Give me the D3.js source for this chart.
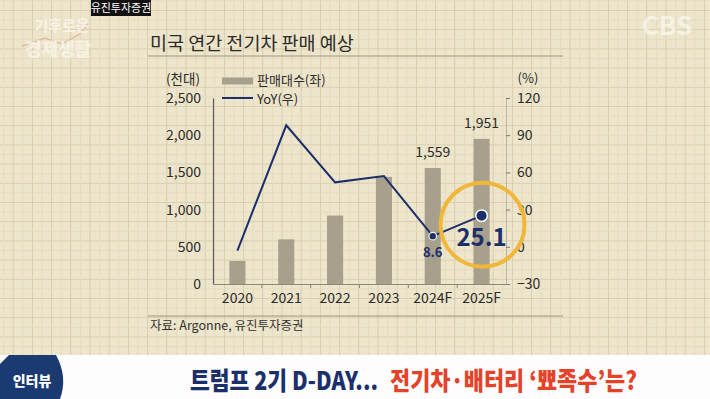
<!DOCTYPE html>
<html>
<head>
<meta charset="utf-8">
<script src="https://cdn.jsdelivr.net/npm/d3@7"></script>
<style>
  body { margin: 0; background: #eee6cc; }
  text { font-family: "Noto Sans CJK KR", "Noto Sans", sans-serif; }
</style>
</head>
<body>
<div id="chart"></div>
<script>
// data
const years = ['2020', '2021', '2022', '2023', '2024F', '2025F']
const sales = [310, 600, 920, 1440, 1559, 1951]
const yoy = [-3, 98, 52, 57, 8.6, 25.1]
const leftTicks = [0, 500, 1000, 1500, 2000, 2500]
const rightTicks = [-30, 0, 30, 60, 90, 120]

const width = 710,
  height = 399

const navy = '#1c2f6a',
  barColor = '#a7a08c'

const svg = d3.select('#chart')
  .append('svg')
  .attr('width', width)
  .attr('height', height)

// paper background
const defs = svg.append('defs')
const pat = defs.append('pattern')
  .attr('id', 'grid')
  .attr('patternUnits', 'userSpaceOnUse')
  .attr('width', 19.2)
  .attr('height', 19.2)
  .attr('x', 12.7)
  .attr('y', 10)
pat.append('rect').attr('width', 19.2).attr('height', 19.2).attr('fill', '#eee6cc')
pat.append('path')
  .attr('d', 'M0,0.5H19.2M0.5,0V19.2')
  .attr('stroke', '#d8cdac').attr('stroke-width', 1)
pat.append('path')
  .attr('d', 'M0,10.1H19.2M10.1,0V19.2')
  .attr('stroke', '#e5dbbe').attr('stroke-width', 1)

svg.append('rect')
  .attr('width', width).attr('height', height)
  .attr('fill', 'url(#grid)')

// scales
const x = d3.scaleBand().domain(years).range([213, 506])
const yL = d3.scaleLinear().domain([0, 2500]).range([284, 98])
const yR = d3.scaleLinear().domain([-30, 120]).range([284, 98])
const cx = d => x(d) + x.bandwidth() / 2
const barW = x.bandwidth() * 0.33

// title
svg.append('text')
  .attr('x', 150).attr('y', 50)
  .attr('font-size', 18.5)
  .attr('fill', '#2b2b2b')
  .text('미국 연간 전기차 판매 예상')

svg.append('line')
  .attr('x1', 148).attr('x2', 563)
  .attr('y1', 56).attr('y2', 56)
  .attr('stroke', '#9e967f').attr('stroke-width', 1.2)

svg.append('line')
  .attr('x1', 148).attr('x2', 563)
  .attr('y1', 316).attr('y2', 316)
  .attr('stroke', '#9e967f').attr('stroke-width', 1.2)

svg.append('text')
  .attr('x', 150).attr('y', 330)
  .attr('font-size', 12.5)
  .attr('fill', '#333')
  .text('자료: Argonne, 유진투자증권')

// bars
svg.selectAll('rect.bar')
  .data(sales)
  .enter()
  .append('rect')
  .attr('class', 'bar')
  .attr('x', (d, i) => cx(years[i]) - barW / 2)
  .attr('y', d => yL(d))
  .attr('width', barW)
  .attr('height', d => yL(0) - yL(d))
  .attr('fill', barColor)

// value labels for forecasts
svg.selectAll('text.val')
  .data(sales.slice(4))
  .enter()
  .append('text')
  .attr('class', 'val')
  .attr('x', (d, i) => cx(years[i + 4]))
  .attr('y', d => yL(d) - 11)
  .attr('text-anchor', 'middle')
  .attr('font-size', 14)
  .attr('fill', '#2b2b2b')
  .text(d3.format(','))

// axes
const left = svg.append('g')
  .attr('transform', 'translate(213,0)')
  .call(d3.axisLeft(yL).tickValues(leftTicks).tickSize(0).tickPadding(12).tickFormat(d3.format(',')))
left.select('.domain').attr('stroke', '#5a5a5a').attr('stroke-width', 1.2)
left.selectAll('text').attr('font-size', 14).attr('fill', '#2b2b2b')

const right = svg.append('g')
  .attr('transform', 'translate(506,0)')
  .call(d3.axisRight(yR).tickValues(rightTicks).tickSize(4).tickSizeOuter(0).tickPadding(7))
right.select('.domain').attr('stroke', '#b9b2a0')
right.selectAll('.tick line').attr('stroke', '#777')
right.selectAll('text').attr('font-size', 14).attr('fill', '#2b2b2b')

const bottom = svg.append('g')
  .attr('transform', 'translate(0,284)')
  .call(d3.axisBottom(x).tickSize(0).tickPadding(9))
bottom.select('.domain').attr('stroke', '#8d877a').attr('stroke-width', 1.2)
bottom.selectAll('text').attr('font-size', 14).attr('fill', '#2b2b2b')

svg.selectAll('line.sep')
  .data(years.slice(1))
  .enter()
  .append('line')
  .attr('class', 'sep')
  .attr('x1', d => x(d)).attr('x2', d => x(d))
  .attr('y1', 284).attr('y2', 288)
  .attr('stroke', '#8d877a')

// unit labels
svg.append('text')
  .attr('x', 183).attr('y', 84)
  .attr('text-anchor', 'middle')
  .attr('font-size', 13.5).attr('fill', '#2b2b2b')
  .text('(천대)')
svg.append('text')
  .attr('x', 528).attr('y', 83)
  .attr('text-anchor', 'middle')
  .attr('font-size', 13).attr('fill', '#2b2b2b')
  .text('(%)')

// legend
svg.append('rect')
  .attr('x', 222).attr('y', 77.5)
  .attr('width', 31).attr('height', 7)
  .attr('fill', barColor)
svg.append('text')
  .attr('x', 257).attr('y', 84.5)
  .attr('font-size', 13).attr('fill', '#2b2b2b')
  .text('판매대수(좌)')
svg.append('line')
  .attr('x1', 222).attr('x2', 253)
  .attr('y1', 98).attr('y2', 98)
  .attr('stroke', navy).attr('stroke-width', 2)
svg.append('text')
  .attr('x', 257).attr('y', 103.5)
  .attr('font-size', 13).attr('fill', '#2b2b2b')
  .text('YoY(우)')

// yoy line
const line = d3.line()
  .x((d, i) => cx(years[i]))
  .y(d => yR(d))

svg.append('path')
  .datum(yoy)
  .attr('d', line)
  .attr('fill', 'none')
  .attr('stroke', navy)
  .attr('stroke-width', 2)

// highlight circle on 2025F
const last = yoy.length - 1
svg.append('circle')
  .attr('cx', cx(years[last]) + 1)
  .attr('cy', yR(yoy[last]) + 9)
  .attr('r', 42)
  .attr('fill', 'none')
  .attr('stroke', '#f1b73a')
  .attr('stroke-width', 4)

svg.append('circle')
  .attr('cx', cx(years[4])).attr('cy', yR(yoy[4]))
  .attr('r', 3.8)
  .attr('fill', navy)
  .attr('stroke', '#f4efe0').attr('stroke-width', 1.2)
svg.append('circle')
  .attr('cx', cx(years[last])).attr('cy', yR(yoy[last]))
  .attr('r', 5.8)
  .attr('fill', navy)
  .attr('stroke', '#fff').attr('stroke-width', 1.5)

svg.append('text')
  .attr('x', cx(years[4])).attr('y', yR(yoy[4]) + 21)
  .attr('text-anchor', 'middle')
  .attr('font-size', 13).attr('font-weight', 700)
  .attr('fill', navy)
  .text(yoy[4])

svg.append('text')
  .attr('x', cx(years[last])).attr('y', yR(yoy[last]) + 30)
  .attr('text-anchor', 'middle')
  .attr('font-size', 24).attr('font-weight', 700)
  .attr('fill', navy)
  .text(yoy[last])

// broadcast overlay
svg.append('rect')
  .attr('x', 91).attr('y', 0)
  .attr('width', 60).attr('height', 16)
  .attr('fill', '#111')
svg.append('text')
  .attr('x', 121).attr('y', 12)
  .attr('text-anchor', 'middle')
  .attr('font-size', 11).attr('fill', '#fff')
  .text('유진투자증권')

svg.append('path')
  .attr('d', 'M22,46 L45,38 L62,44 L80,34 L88,24')
  .attr('fill', 'none')
  .attr('stroke', '#e0a99a').attr('stroke-width', 1.5)
  .attr('opacity', 0.7)
svg.append('text')
  .attr('x', 62).attr('y', 31)
  .attr('text-anchor', 'middle')
  .attr('font-size', 15).attr('font-weight', 900)
  .attr('fill', '#fbf6ee').attr('opacity', 0.75)
  .text('기후로운')
svg.append('text')
  .attr('x', 58).attr('y', 56)
  .attr('text-anchor', 'middle')
  .attr('font-size', 18).attr('font-weight', 900)
  .attr('fill', '#fbf6ee').attr('opacity', 0.75)
  .text('경제생활')

svg.append('text')
  .attr('x', 667).attr('y', 35)
  .attr('text-anchor', 'middle')
  .attr('font-family', 'Liberation Sans, sans-serif')
  .attr('font-size', 26).attr('font-weight', 700)
  .attr('fill', '#fff').attr('opacity', 0.55)
  .text('CBS')

svg.append('rect')
  .attr('x', 0).attr('y', 355)
  .attr('width', width).attr('height', 44)
  .attr('fill', '#fdfdfd')
svg.append('path')
  .attr('d', 'M0,364 L9,355 L56,355 Q68,377 60,399 L0,399 Z')
  .attr('fill', '#1b3a72')
svg.append('text')
  .attr('x', 32).attr('y', 386)
  .attr('text-anchor', 'middle')
  .attr('font-size', 14).attr('font-weight', 900)
  .attr('fill', '#fff')
  .text('인터뷰')

svg.append('text')
  .attr('x', 190).attr('y', 390)
  .attr('font-size', 25).attr('font-weight', 900)
  .attr('textLength', 188)
  .attr('lengthAdjust', 'spacingAndGlyphs')
  .attr('fill', '#1b2f6b')
  .text('트럼프 2기 D-DAY...')
svg.append('text')
  .attr('x', 390).attr('y', 390)
  .attr('font-size', 25).attr('font-weight', 900)
  .attr('textLength', 247)
  .attr('lengthAdjust', 'spacingAndGlyphs')
  .attr('fill', '#e4432a')
  .text('전기차·배터리 ‘뾰족수’는?')
</script>
</body>
</html>
